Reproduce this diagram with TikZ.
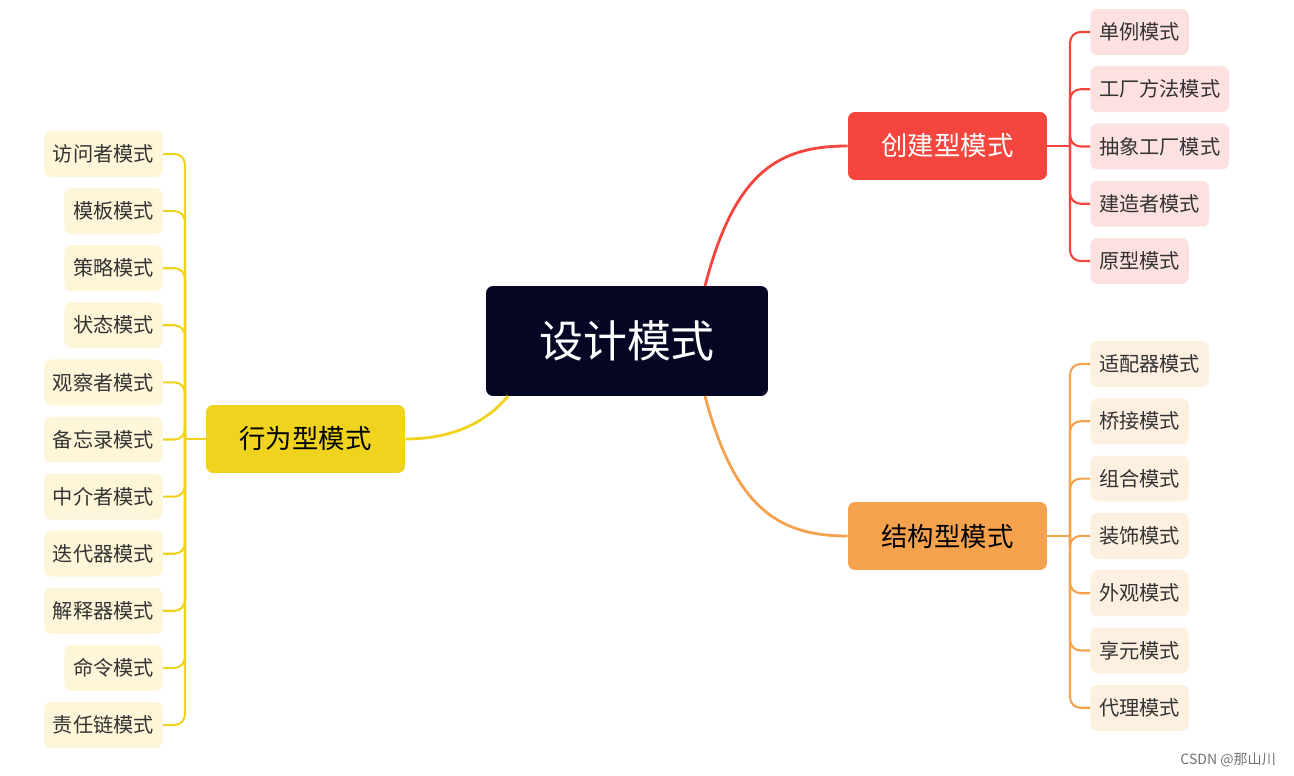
\documentclass[tikz,border=0pt]{standalone}
\usepackage{fontspec}
\setmainfont{Noto Sans CJK SC}
\usetikzlibrary{positioning}
\definecolor{navy}{HTML}{050624}
\definecolor{cred}{HTML}{F4463F}
\definecolor{corange}{HTML}{F5A24F}
\definecolor{cyellow}{HTML}{F0D31F}
\definecolor{lred}{HTML}{FDE1E0}
\definecolor{lorange}{HTML}{FEF0E1}
\definecolor{lyellow}{HTML}{FEF6D8}
\begin{document}
\begin{tikzpicture}
   [x=0.02cm, y=-0.02cm,
   rootbox/.style={rectangle, rounded corners=4pt, fill=navy, text=white, minimum width=5.64cm, minimum height=2.2cm, font=\fontsize{25}{28}\selectfont},
   mainbox/.style={rectangle, rounded corners=4pt, minimum width=3.98cm, minimum height=1.36cm, font=\fontsize{15}{18}\selectfont},
   leafbox/.style={rectangle, rounded corners=4pt, minimum height=0.92cm, inner xsep=5pt, text=black!80, font=\fontsize{11.5}{14}\selectfont},
   link/.style={line width=1.6pt},
   bracket/.style={line width=1.2pt, rounded corners=6pt},
   ]
 \useasboundingbox (0,0) rectangle (1294,776);
 \node at (627,341) [rootbox] (root) {设计模式};
 \node at (947.5,146) [mainbox, fill=cred, text=white] (create) {创建型模式};
 \node at (947.5,536) [mainbox, fill=corange] (struct) {结构型模式};
 \node at (305.5,439) [mainbox, fill=cyellow] (behav) {行为型模式};
 % main links
 \draw[link, cred] (705,286) .. controls (735,170) and (780,146) .. (create.west);
 \draw[link, corange] (705,396) .. controls (735,510) and (780,536) .. (struct.west);
 \draw[link, cyellow] (508,396) .. controls (480,430) and (440,439) .. (behav.east);
 % creational
 \coordinate (cr) at (1070,146);
 \draw[bracket, cred] (create.east) -- (cr);
 \foreach \t [count=\i] in {单例模式,工厂方法模式,抽象工厂模式,建造者模式,原型模式} {
   \node[leafbox, fill=lred, anchor=west] at (1090,{32+57.25*(\i-1)}) (c\i) {\t};
   \draw[bracket, cred] (cr) |- (c\i.west);
 }
 % structural
 \coordinate (sr) at (1070,536);
 \draw[bracket, corange] (struct.east) -- (sr);
 \foreach \t [count=\i] in {适配器模式,桥接模式,组合模式,装饰模式,外观模式,享元模式,代理模式} {
   \node[leafbox, fill=lorange, anchor=west] at (1090,{364+57.3*(\i-1)}) (s\i) {\t};
   \draw[bracket, corange] (sr) |- (s\i.west);
 }
 % behavioral
 \coordinate (br) at (185,439);
 \draw[bracket, cyellow] (behav.west) -- (br);
 \foreach \t [count=\i] in {访问者模式,模板模式,策略模式,状态模式,观察者模式,备忘录模式,中介者模式,迭代器模式,解释器模式,命令模式,责任链模式} {
   \node[leafbox, fill=lyellow, anchor=east] at (163,{154+57.1*(\i-1)}) (b\i) {\t};
   \draw[bracket, cyellow] (br) |- (b\i.east);
 }
 \node[anchor=east, text=black!55, font=\fontsize{8}{10}\selectfont] at (1282,760) (mark) {CSDN @那山川};
\end{tikzpicture}
\end{document}
